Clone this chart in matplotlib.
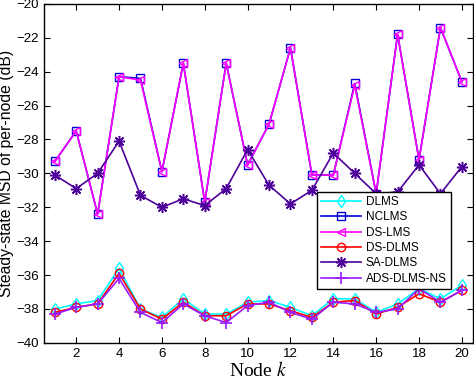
import numpy as np
import matplotlib.pyplot as plt

# node index
nodes = np.arange(1, 21)

# steady-state MSD per node (dB)
dlms = [-38.0, -37.7, -37.5, -35.6, -38.0, -38.5, -37.4, -38.3, -38.3, -37.6,
        -37.5, -37.9, -38.4, -37.4, -37.4, -38.2, -37.7, -36.8, -37.4, -36.6]
nclms = [-29.3, -27.5, -32.4, -24.3, -24.4, -29.9, -23.5, -31.7, -23.5, -29.5,
         -27.1, -22.6, -30.1, -30.1, -24.7, -31.2, -21.8, -29.2, -21.4, -24.6]
ds_lms = [-29.3, -27.5, -32.4, -24.3, -24.5, -29.9, -23.5, -31.7, -23.5, -29.5,
          -27.1, -22.6, -30.1, -30.1, -24.8, -31.2, -21.8, -29.2, -21.4, -24.6]
ds_dlms = [-38.2, -37.9, -37.7, -35.9, -38.0, -38.6, -37.6, -38.4, -38.4, -37.7,
           -37.7, -38.1, -38.5, -37.6, -37.5, -38.3, -37.9, -37.1, -37.6, -36.9]
sa_dlms = [-30.1, -30.9, -30.0, -28.1, -31.3, -32.0, -31.5, -31.9, -30.9, -28.6,
           -30.7, -31.8, -31.0, -28.8, -30.0, -31.2, -31.1, -29.5, -31.2, -29.6]
ads_dlms_ns = [-38.3, -37.9, -37.7, -36.2, -38.2, -38.8, -37.7, -38.4, -38.8, -37.8,
               -37.6, -38.2, -38.6, -37.6, -37.7, -38.2, -38.0, -36.8, -37.6, -36.9]

plt.rcParams['font.family'] = ['Liberation Sans', 'DejaVu Sans']
plt.rcParams['mathtext.fontset'] = 'stix'

fig = plt.figure(figsize=(4.74, 3.81), dpi=100)
ax = fig.add_axes([0.093, 0.1, 0.904, 0.89])

ms = 6
lw = 1.2
ax.plot(nodes, dlms, '-d', color=(0, 1, 1), mfc='none', ms=ms, lw=lw, label='DLMS')
ax.plot(nodes, nclms, '-s', color=(0, 0, 0.85), mfc='none', ms=5.5, lw=lw, label='NCLMS')
ax.plot(nodes, ds_lms, '-<', color=(1, 0, 1), mfc='none', ms=ms, lw=lw, label='DS-LMS')
ax.plot(nodes, ds_dlms, '-o', color=(1, 0, 0), mfc='none', ms=ms, lw=lw, label='DS-DLMS')
# MATLAB-style asterisk: 8 arms
ax.plot(nodes, sa_dlms, '-', marker=(8, 2, 0), color=(0.3, 0.0, 0.6), ms=8, mew=1.1,
        lw=lw, label='SA-DLMS')
ax.plot(nodes, ads_dlms_ns, '-+', color=(0.6, 0.1, 1.0), ms=9, mew=1.2, lw=lw,
        label='ADS-DLMS-NS')

ax.set_xlim(0.5, 20.5)
ax.set_ylim(-40, -20)
ax.set_xticks(np.arange(2, 21, 2))
ax.set_yticks(np.arange(-40, -19, 2))
ax.tick_params(direction='in', top=True, right=True, labelsize=9.6, length=4)
for s in ax.spines.values():
    s.set_linewidth(1.0)

ax.set_ylabel('Steady-state MSD of per-node (dB)', fontsize=11.3, labelpad=2)
ax.set_xlabel('Node $k$', fontsize=14, family='Liberation Serif', labelpad=1)

leg = ax.legend(loc='upper left', bbox_to_anchor=(0.636, 0.445), fontsize=8.5,
                handlelength=3.4, fancybox=False, framealpha=1, borderaxespad=0,
                borderpad=0.35, labelspacing=0.28, handletextpad=0.4)
leg.get_frame().set_edgecolor('black')
leg.get_frame().set_linewidth(1.0)

fig.savefig('out.png', dpi=100)
